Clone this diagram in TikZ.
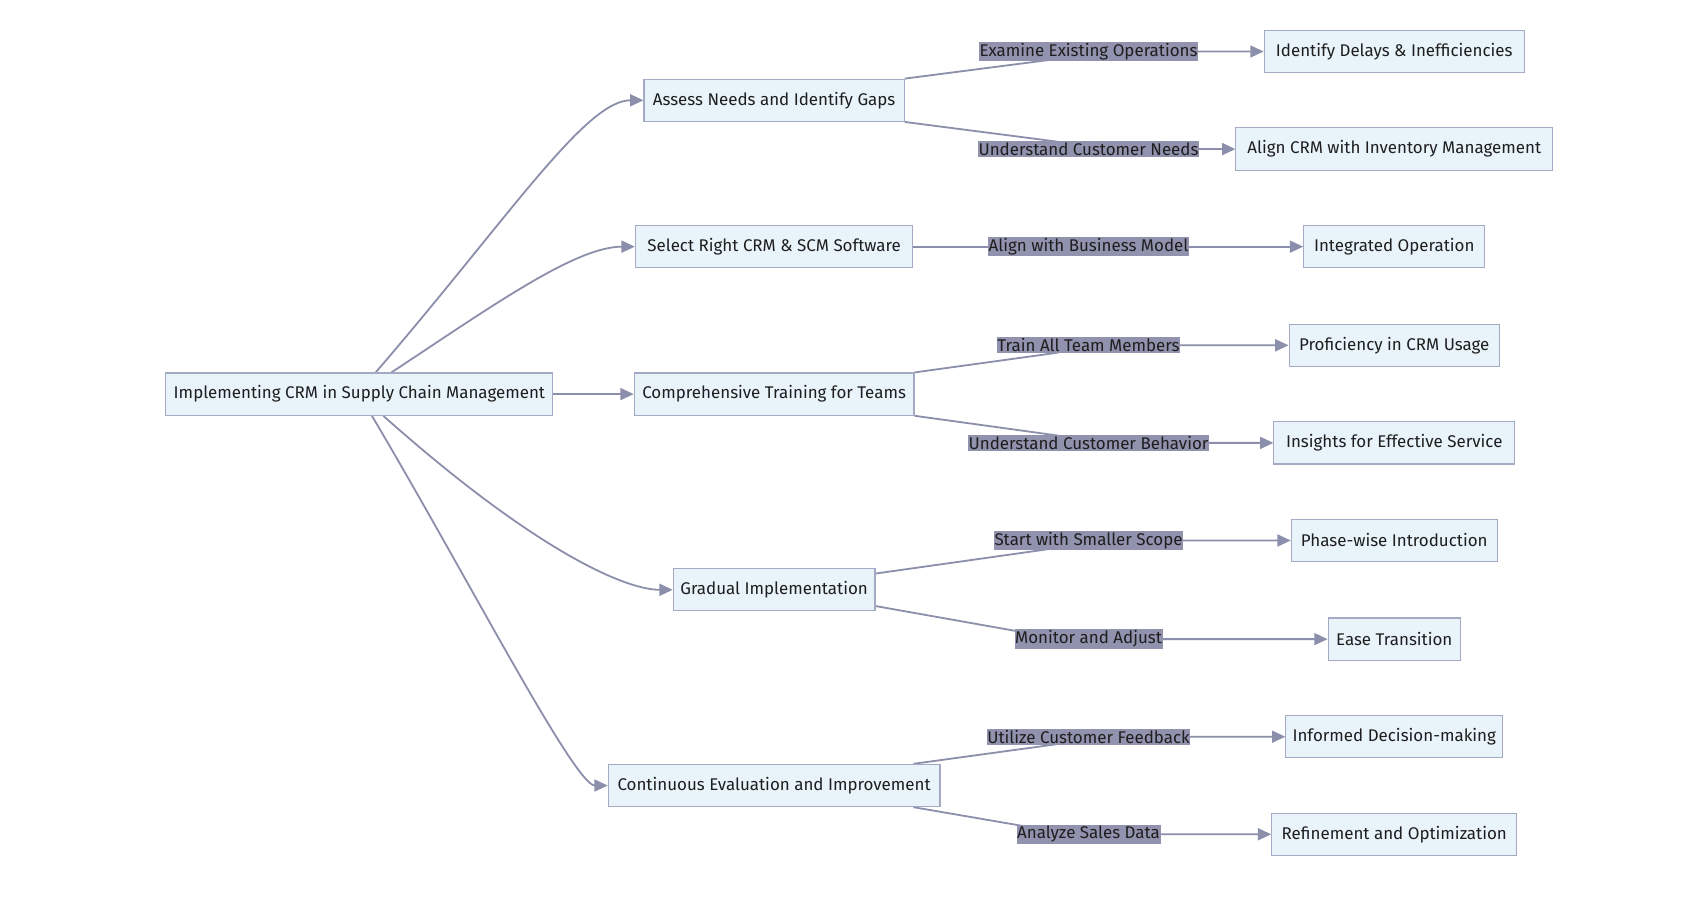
\documentclass[tikz,border=0pt]{standalone}
\usepackage{fontspec}
\setmainfont{Fira Sans}
\usetikzlibrary{arrows.meta,calc}
\definecolor{edgec}{RGB}{140,143,172}
\definecolor{lblbg}{RGB}{144,146,174}
\definecolor{nodefill}{RGB}{232,243,250}
\definecolor{nodeline}{RGB}{164,169,196}
\definecolor{txt}{RGB}{30,30,30}
\pgfdeclarelayer{bg}
\pgfsetlayers{bg,main}
\begin{document}
\begin{tikzpicture}[x=0.8132pt,y=-0.8132pt,
  box/.style={draw=nodeline,fill=nodefill,line width=0.8pt,minimum height=31.7pt,inner xsep=4pt,text=txt,font=\fontsize{12.7pt}{14pt}\selectfont},
  lbl/.style={fill=lblbg,inner xsep=0.5pt,inner ysep=1pt,text=txt,font=\fontsize{12.7pt}{14pt}\selectfont},
  edge/.style={draw=edgec,line width=1.35pt,line join=round,-{Triangle[length=10pt,width=9pt]}}]
\useasboundingbox (0,0) rectangle (1568,834);
% root
\node[box,minimum width=290.3pt] (root) at (331.5,363.5) {Implementing CRM in Supply Chain Management};
% level 1
\node[box,minimum width=195.2pt] (assess) at (714,92.5) {Assess Needs and Identify Gaps};
\node[box,minimum width=208.2pt] (select) at (714,227.5) {Select Right CRM \& SCM Software};
\node[box,minimum width=209.8pt] (comp) at (714,363.5) {Comprehensive Training for Teams};
\node[box,minimum width=151.3pt] (grad) at (714,544) {Gradual Implementation};
\node[box,minimum width=248.8pt] (cont) at (714,724.5) {Continuous Evaluation and Improvement};
% level 2
\node[box,minimum width=195.2pt] (ident) at (1286,47.5) {Identify Delays \& Inefficiencies};
\node[box,minimum width=237.5pt] (align) at (1286,137.5) {Align CRM with Inventory Management};
\node[box,minimum width=135.8pt] (integ) at (1286,227.5) {Integrated Operation};
\node[box,minimum width=157.8pt] (prof) at (1286,318.5) {Proficiency in CRM Usage};
\node[box,minimum width=180.5pt] (insig) at (1286,408.5) {Insights for Effective Service};
\node[box,minimum width=154.5pt] (phase) at (1286,498.5) {Phase-wise Introduction};
\node[box,minimum width=99.2pt] (ease) at (1286,589.5) {Ease Transition};
\node[box,minimum width=162.6pt] (inform) at (1286,679.5) {Informed Decision-making};
\node[box,minimum width=183.8pt] (refine) at (1286,769.5) {Refinement and Optimization};
% labels
\node[lbl] (l0) at (1004,47.5) {Examine Existing Operations};
\node[lbl] (l1) at (1004,137.5) {Understand Customer Needs};
\node[lbl] (l2) at (1004,227.5) {Align with Business Model};
\node[lbl] (l3) at (1004,318.5) {Train All Team Members};
\node[lbl] (l4) at (1004,408.5) {Understand Customer Behavior};
\node[lbl] (l5) at (1004,498.5) {Start with Smaller Scope};
\node[lbl] (l6) at (1004,589.5) {Monitor and Adjust};
\node[lbl] (l7) at (1004,679.5) {Utilize Customer Feedback};
\node[lbl] (l8) at (1004,769.5) {Analyze Sales Data};
\begin{pgfonlayer}{bg}
\fill[white] (0,0) rectangle (1568,834);
% root edges
\draw[edge] ($(root.north)+(15,0)$) .. controls (470,200) and (540,92.5) .. (assess.west);
\draw[edge] ($(root.north)+(29.5,0)$) .. controls (450,285) and (530,227.5) .. (select.west);
\draw[edge] (root) -- (comp);
\draw[edge] ($(root.south)+(22,0)$) .. controls (490,505) and (575,544) .. (grad.west);
\draw[edge] ($(root.south)+(11.5,0)$) .. controls (430,530) and (530,724.5) .. (cont.west);
% level 1 to level 2
\draw[edge] (assess.north east) -- ($(l0.center)+(-30,7)$) -- (l0.center) -- (ident);
\draw[edge] (assess.south east) -- ($(l1.center)+(-30,-7)$) -- (l1.center) -- (align);
\draw[edge] (select) -- (l2.center) -- (integ);
\draw[edge] (comp.north east) -- ($(l3.center)+(-30,7)$) -- (l3.center) -- (prof);
\draw[edge] (comp.south east) -- ($(l4.center)+(-30,-7)$) -- (l4.center) -- (insig);
\draw[edge] ($(grad.north east)+(0,5)$) -- ($(l5.center)+(-30,7)$) -- (l5.center) -- (phase);
\draw[edge] ($(grad.south east)+(0,-5)$) -- ($(l6.center)+(-50,-4.5)$) -- (l6.center) -- (ease);
\draw[edge] ($(cont.north east)+(-25,0)$) -- ($(l7.center)+(-30,7)$) -- (l7.center) -- (inform);
\draw[edge] ($(cont.south east)+(-25,0)$) -- ($(l8.center)+(-42,-4.5)$) -- (l8.center) -- (refine);
\end{pgfonlayer}
\end{tikzpicture}
\end{document}
